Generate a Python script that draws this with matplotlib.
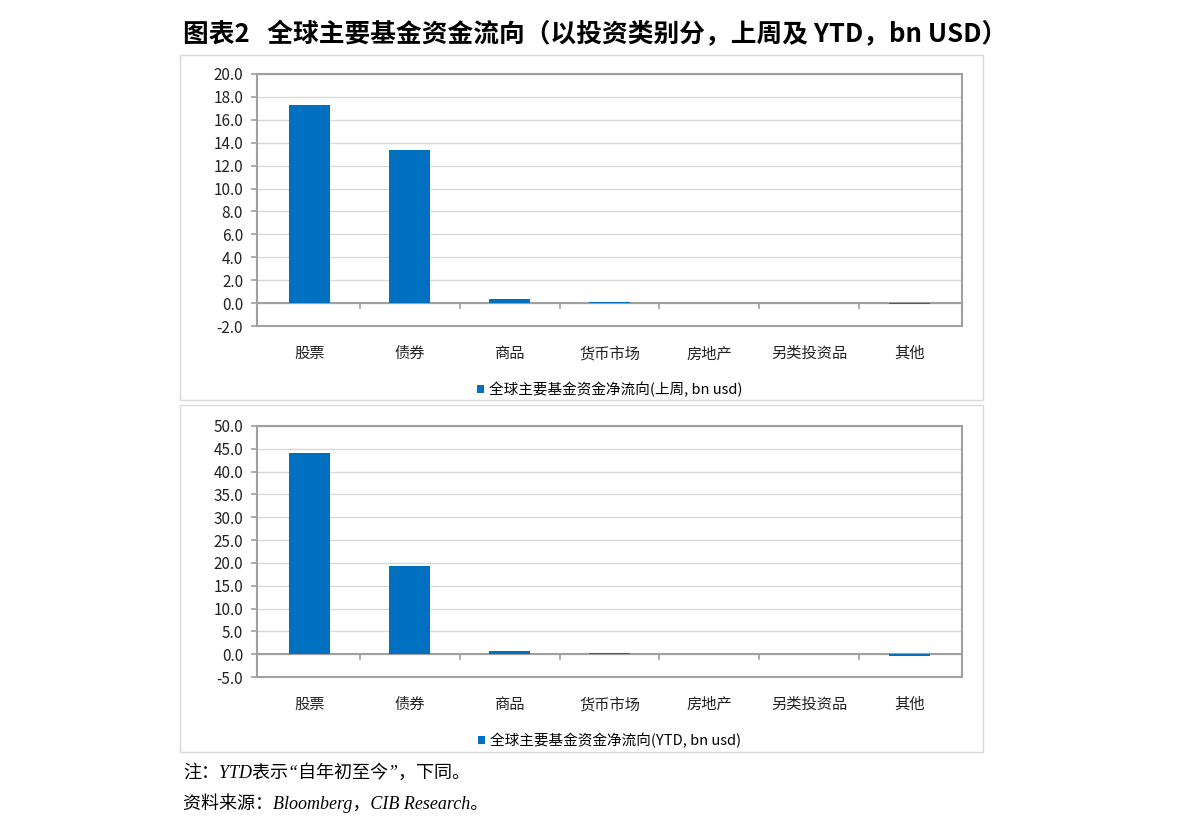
import matplotlib
matplotlib.use("Agg")
import matplotlib.pyplot as plt
from matplotlib.patches import Rectangle
import matplotlib.transforms as mtransforms

plt.rcParams['font.family'] = ['Noto Sans CJK SC', 'DejaVu Sans']

categories = ['股票', '债券', '商品', '货币市场', '房地产', '另类投资品', '其他']
weekly_flows = [17.3, 13.4, 0.35, 0.1, -0.03, -0.03, -0.05]
ytd_flows = [44.0, 19.3, 0.6, 0.3, -0.05, -0.05, -0.4]
weekly_ticks = [-2.0, 0.0, 2.0, 4.0, 6.0, 8.0, 10.0, 12.0, 14.0, 16.0, 18.0, 20.0]
ytd_ticks = [-5.0, 0.0, 5.0, 10.0, 15.0, 20.0, 25.0, 30.0, 35.0, 40.0, 45.0, 50.0]
title = '图表2   全球主要基金资金流向（以投资类别分，上周及 YTD，bn USD）'
legend_weekly = '全球主要基金资金净流向(上周, bn usd)'
legend_ytd = '全球主要基金资金净流向(YTD, bn usd)'
note1 = '注：YTD表示“自年初至今”，下同。'
note2 = '资料来源：Bloomberg，CIB Research。'

BAR = '#0070C0'
GRID = '#D9D9D9'
SPINE = '#A0A0A0'

fig = plt.figure(figsize=(11.91, 8.35), dpi=100)

# outer frames
for (y0, h) in [(1 - 400/835, (400-55)/835), (1 - 752/835, (752-405)/835)]:
    fig.patches.append(Rectangle((180/1191, y0), (983-180)/1191, h, transform=fig.transFigure,
                                 fill=False, edgecolor='#D9D9D9', linewidth=1.0))

fig.text(183/1191, 1 - 35/835, title, fontsize=18.5, fontweight='bold', va='center', ha='left')


def draw(ax, values, ticks, legend_label):
    n = len(categories)
    xs = list(range(n))
    ax.set_xlim(-0.53, n - 0.47)
    ax.set_ylim(ticks[0], ticks[-1])
    ax.set_yticks(ticks)
    ax.set_yticklabels([f'{t:.1f}' for t in ticks], fontsize=11, color='#222222')
    ax.yaxis.grid(True, color=GRID, linewidth=1.0)
    ax.set_axisbelow(True)
    ax.bar(xs, values, width=0.41, color=BAR, zorder=3, label=legend_label)
    for s in ax.spines.values():
        s.set_color(SPINE)
        s.set_linewidth(1.5)
    ax.axhline(0, color=SPINE, linewidth=1.5, zorder=2)
    ax.tick_params(axis='y', length=4, color=SPINE, width=1.2, pad=6)
    ax.set_xticks([])
    trans = mtransforms.blended_transform_factory(ax.transData, ax.transAxes)
    # boundary tick marks at zero line
    span = ticks[-1] - ticks[0]
    for i in range(n - 1):
        ax.plot([i + 0.5, i + 0.5], [0, -span * 0.018], color=SPINE, linewidth=1.2,
                zorder=2, clip_on=False)
    for i, c in enumerate(categories):
        ax.text(i, -0.11, c, transform=trans, ha='center', va='center', fontsize=11,
                color='#222222')
    ax.legend(loc='upper center', bbox_to_anchor=(0.5, -0.17), frameon=False,
              fontsize=10.5, handlelength=0.5, handleheight=0.5, handletextpad=0.3)


ax1 = fig.add_axes([257/1191, 1 - 326/835, (962-257)/1191, (326-74)/835])
draw(ax1, weekly_flows, weekly_ticks, legend_weekly)
ax2 = fig.add_axes([257/1191, 1 - 677/835, (962-257)/1191, (677-426)/835])
draw(ax2, ytd_flows, ytd_ticks, legend_ytd)

fig.text(183/1191, 1 - 773/835, note1, fontsize=13, style='italic', va='center',
         family=['Liberation Serif', 'Noto Sans CJK SC'])
fig.text(183/1191, 1 - 803/835, note2, fontsize=13, style='italic', va='center',
         family=['Liberation Serif', 'Noto Sans CJK SC'])

fig.savefig('out.png', dpi=100)
